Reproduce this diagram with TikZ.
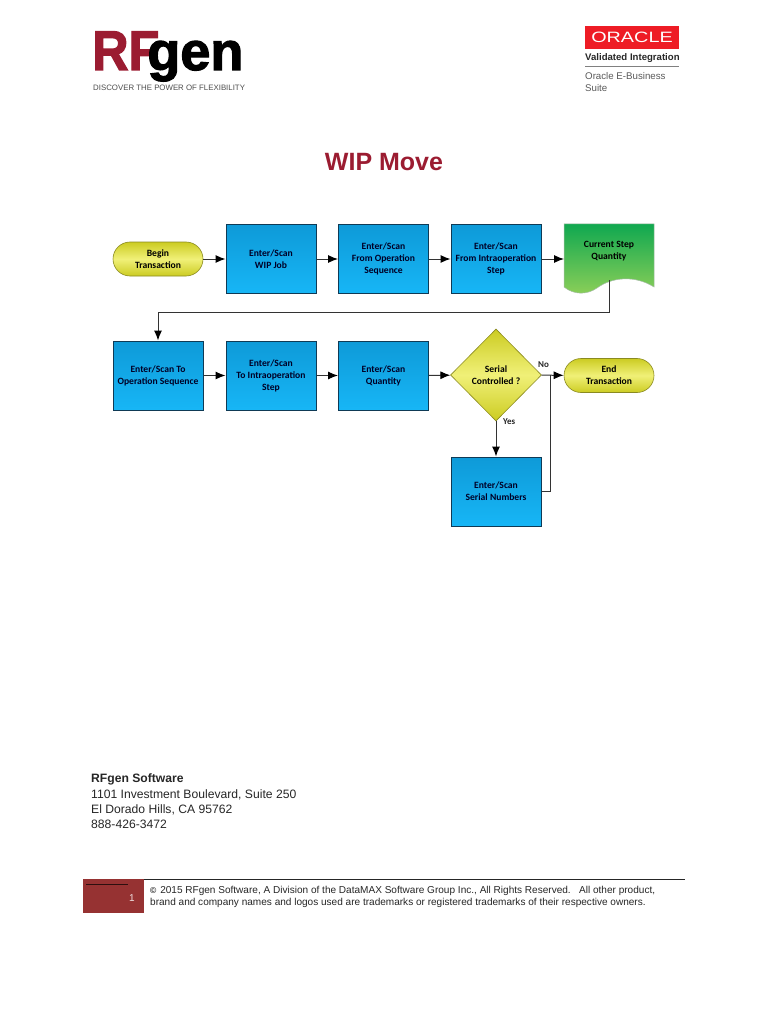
\documentclass[tikz,border=0pt]{standalone}
\usepackage{fontspec}
\setmainfont{Liberation Sans}
\newfontfamily\flowfont{Carlito}
\newfontfamily\logofont[FakeBold=2.2]{Liberation Sans Bold}
\usetikzlibrary{arrows,arrows.meta,shapes.geometric}
\definecolor{rfred}{HTML}{9B1C31}
\definecolor{oracred}{HTML}{EE1C25}
\definecolor{pagered}{HTML}{963232}
\definecolor{edgeblue}{HTML}{0F3A55}
\definecolor{edgeolive}{HTML}{8A8A20}
\definecolor{bluetop}{HTML}{0E9AD8}
\definecolor{bluebot}{HTML}{17B6F6}
\definecolor{yellowedge}{HTML}{CCCC22}
\definecolor{yellowmid}{HTML}{F0F078}
\definecolor{greentop}{HTML}{10A850}
\definecolor{greenbot}{HTML}{8CCF58}
\tikzset{
  stepbox/.style={draw=edgeblue, line width=1pt, top color=bluetop, bottom color=bluebot,
    minimum width=90pt, minimum height=69pt, inner sep=0pt, align=center, text=black!85!blue,
    font=\flowfont\bfseries\fontsize{9.6}{12}\selectfont},
  termbox/.style={draw=edgeolive, line width=0.6pt, rounded corners=17pt, top color=yellowedge, bottom color=yellowedge,
    middle color=yellowmid, minimum width=90pt, minimum height=34pt, inner sep=0pt, align=center,
    font=\flowfont\bfseries\fontsize{9.6}{12}\selectfont},
  flowlink/.style={draw=black!80, line width=1pt},
  flowarrow/.style={flowlink, -{Latex[length=10pt,width=8pt,black]}},
  plaintext/.style={anchor=base west, inner sep=0pt, text=black!85},
}
\begin{document}
\begin{tikzpicture}[x=1pt,y=-1pt]
  \useasboundingbox (0,0) rectangle (768,1024);
  % logos
  \node[plaintext, text=black, font=\logofont] (logo) at (92,70)
    {\scalebox{0.9}[1]{\textcolor{rfred}{\fontsize{56}{56}\selectfont RF}}\kern-12pt\fontsize{54}{54}\selectfont gen};
  \node[plaintext, text=black!70, font=\fontsize{7.85}{9}\selectfont] (logotag) at (93,91) {DISCOVER THE POWER OF FLEXIBILITY};
  \node[fill=oracred, minimum width=94pt, minimum height=23pt, inner sep=0pt, text=white,
    font=\fontsize{15}{15}\selectfont] (oraclebox) at (632,37.5) {\scalebox{1.32}[1]{ORACLE}};
  \node[plaintext, font=\bfseries\fontsize{9.6}{11}\selectfont] (oracleval) at (585,61) {Validated Integration};
  \draw[black!50, line width=0.6pt] (585,66.5) -- (679,66.5);
  \node[plaintext, text=black!65, font=\fontsize{9.7}{11}\selectfont] (oraclebus) at (585,79.5) {Oracle E-Business};
  \node[plaintext, text=black!65, font=\fontsize{9.7}{11}\selectfont] (oraclesuite) at (585,92) {Suite};
  % title
  \node[text=rfred, inner sep=0pt, font=\bfseries\fontsize{25}{25}\selectfont] (title) at (384,162) {WIP Move};
  % first row
  \node[termbox] (begin) at (158,259) {Begin\\Transaction};
  \node[stepbox] (wipjob) at (271,259) {Enter/Scan\\WIP Job};
  \node[stepbox] (fromop) at (383.5,259) {Enter/Scan\\From Operation\\Sequence};
  \node[stepbox] (fromintra) at (496,259) {Enter/Scan\\From Intraoperation\\Step};
  \shade[top color=greentop, bottom color=greenbot]
    (564,224) -- (654,224) -- (654,287)
    .. controls (635,275) and (612,277) .. (597,288)
    .. controls (587,295) and (574,295) .. (564,287) -- cycle;
  \draw[green!25!black!35!white, line width=0.5pt]
    (564,224) -- (654,224) -- (654,287)
    .. controls (635,275) and (612,277) .. (597,288)
    .. controls (587,295) and (574,295) .. (564,287) -- cycle;
  \node[align=center, inner sep=0pt, font=\flowfont\bfseries\fontsize{9.6}{12}\selectfont] (stepqty) at (609,251) {Current Step\\Quantity};
  \coordinate (stepqtyend) at (609,280);
  \coordinate (stepqtyleft) at (564,259);
  % second row
  \node[stepbox] (toop) at (158,375.5) {Enter/Scan To\\Operation Sequence};
  \node[stepbox] (tointra) at (271,375.5) {Enter/Scan\\To Intraoperation\\Step};
  \node[stepbox] (qty) at (383.5,375.5) {Enter/Scan\\Quantity};
  \node[diamond, aspect=1, draw=edgeolive, line width=0.6pt, top color=yellowedge, bottom color=yellowedge,
    middle color=yellowmid, minimum width=91pt, minimum height=92pt, inner sep=0pt, align=center,
    font=\flowfont\bfseries\fontsize{9.6}{12}\selectfont] (serial) at (496,375) {Serial\\Controlled ?};
  \node[termbox] (endtrans) at (609,375.5) {End\\Transaction};
  \node[stepbox] (serialno) at (496,491.5) {Enter/Scan\\Serial Numbers};
  % connectors
  \foreach \a/\b in {begin/wipjob,wipjob/fromop,fromop/fromintra,toop/tointra,tointra/qty,qty/serial,serial/endtrans,serial/serialno} {%
    \draw[flowarrow] (\a) -- (\b);
  }
  \draw[flowarrow] (fromintra) -- (stepqtyleft);
  \draw[flowarrow] (stepqtyend) |- (158,312) -- (toop);
  \draw[flowlink] (serialno) -| (550,375);
  \node[plaintext, font=\flowfont\bfseries\fontsize{9}{11}\selectfont] (labelno) at (538,367) {No};
  \node[plaintext, font=\flowfont\bfseries\fontsize{9}{11}\selectfont] (labelyes) at (503,424) {Yes};
  % address
  \node[plaintext, font=\bfseries\fontsize{12.15}{14}\selectfont] (addrname) at (91,782) {RFgen Software};
  \node[plaintext, font=\fontsize{12.15}{14}\selectfont] (addrstreet) at (91,798) {1101 Investment Boulevard, Suite 250};
  \node[plaintext, font=\fontsize{12.15}{14}\selectfont] (addrcity) at (91,813) {El Dorado Hills, CA 95762};
  \node[plaintext, font=\fontsize{12.15}{14}\selectfont] (addrphone) at (91,828) {888-426-3472};
  % footer
  \fill[pagered] (83,879) rectangle (144,913);
  \draw[black!70!pagered, line width=1pt] (86,884) -- (128,884);
  \draw[black!85, line width=0.8pt] (144,879) -- (685,879);
  \node[plaintext, text=white!85!pagered, font=\fontsize{10}{12}\selectfont] (pagenum) at (129,901) {1};
  \node[plaintext, font=\fontsize{10.05}{12}\selectfont] (footone) at (150,893.5) {{\bfseries\fontsize{8.5}{12}\selectfont\char"00A9}\kern1pt{} 2015 RFgen Software, A Division of the DataMAX Software Group Inc., All Rights Reserved.\ \ \ All other product,};
  \node[plaintext, font=\fontsize{10.05}{12}\selectfont] (foottwo) at (150,905) {brand and company names and logos used are trademarks or registered trademarks of their respective owners.};
\end{tikzpicture}
\end{document}
